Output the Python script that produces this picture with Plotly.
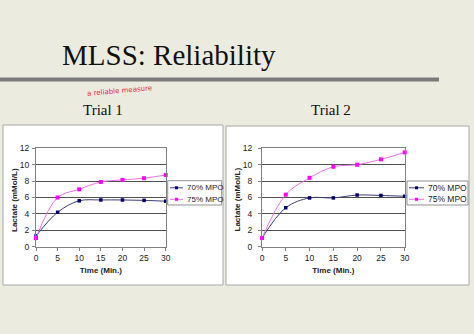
import plotly.graph_objects as go

W, H = 474, 334

time_min = [0, 5, 10, 15, 20, 25, 30]
trial1_70 = [1.3, 4.2, 5.6, 5.7, 5.7, 5.65, 5.55]
trial1_75 = [1.05, 6.0, 7.0, 7.9, 8.15, 8.35, 8.75]
trial2_70 = [1.05, 4.75, 5.95, 5.95, 6.3, 6.25, 6.15]
trial2_75 = [1.05, 6.35, 8.4, 9.75, 10.0, 10.65, 11.5]
series_names = ["70% MPO", "75% MPO"]
y_ticks = [0, 2, 4, 6, 8, 10, 12]
x_ticks = [0, 5, 10, 15, 20, 25, 30]

C70_LINE, C70_MARK = "#3c3c78", "#000070"
C75_LINE, C75_MARK = "#e870e8", "#ff00ff"


def px(x):
    return x / W


def py(y):
    return 1 - y / H


fig = go.Figure()

for ax, (s70, s75) in zip(["", "2"], [(trial1_70, trial1_75), (trial2_70, trial2_75)]):
    fig.add_trace(go.Scatter(x=time_min, y=s70, mode="lines+markers", name=series_names[0],
                             line=dict(color=C70_LINE, width=1, shape="spline", smoothing=1),
                             marker=dict(color=C70_MARK, size=3.5, symbol="square"),
                             xaxis="x" + ax, yaxis="y" + ax, showlegend=False, cliponaxis=False))
    fig.add_trace(go.Scatter(x=time_min, y=s75, mode="lines+markers", name=series_names[1],
                             line=dict(color=C75_LINE, width=1, shape="spline", smoothing=1),
                             marker=dict(color=C75_MARK, size=4, symbol="square"),
                             xaxis="x" + ax, yaxis="y" + ax, showlegend=False, cliponaxis=False))

FONT = "Liberation Sans, Arial"
tickfont = dict(family=FONT, size=8.5, color="#222")
titlefont = dict(family=FONT, size=8, color="#222", weight="bold")

plots = [
    dict(x0=36, x1=165.7, y0=148.3, y1=246.7, ylab_std=1, ytitle_x=15),
    dict(x0=262, x1=404.7, y0=148.3, y1=246.7, ylab_std=4, ytitle_x=237.5),
]

layout_axes = {}
for i, p in enumerate(plots):
    sfx = "" if i == 0 else str(i + 1)
    layout_axes["xaxis" + sfx] = dict(
        domain=[px(p["x0"]), px(p["x1"])], range=[0, 30], tickvals=x_ticks,
        showgrid=False, zeroline=False, showline=True, linecolor="#808080", linewidth=1,
        mirror=True, ticks="outside", ticklen=3, tickcolor="#808080", tickfont=tickfont,
        anchor="y" + sfx, automargin=False, fixedrange=True,
        title=dict(text="Time (Min.)", font=titlefont, standoff=5))
    layout_axes["yaxis" + sfx] = dict(
        domain=[py(p["y1"]), py(p["y0"])], range=[0, 12], tickvals=y_ticks,
        showgrid=True, gridcolor="#505050", gridwidth=1, zeroline=False,
        showline=True, linecolor="#808080", linewidth=1, mirror=True,
        ticks="outside", ticklen=3, tickcolor="#808080", tickfont=tickfont,
        ticklabelstandoff=p["ylab_std"],
        anchor="x" + sfx, automargin=False, fixedrange=True)

shapes = []
annotations = []

# title underline
shapes.append(dict(type="line", xref="paper", yref="paper", x0=0, x1=px(439), y0=py(79.5), y1=py(79.5),
                   line=dict(color="#7a7a7a", width=4), layer="below"))
# chart boxes
for (bx0, by0, bx1, by1) in [(3, 125, 223, 285), (226, 126, 469, 285)]:
    shapes.append(dict(type="rect", xref="paper", yref="paper", x0=px(bx0), x1=px(bx1), y0=py(by1), y1=py(by0),
                       fillcolor="white", line=dict(color="#a8a8a8", width=1), layer="below"))

# y-axis titles
for i, p in enumerate(plots):
    annotations.append(dict(text="<b>Lactate (mMol/L)</b>", xref="paper", yref="paper",
                            x=px(p["ytitle_x"]), y=py(200), textangle=-90,
                            showarrow=False, font=dict(family=FONT, size=8, color="#222"),
                            xanchor="center", yanchor="middle"))

# legends (boxes + samples + labels)
legends = [
    dict(bx0=167.7, bx1=221.7, by0=180.7, by1=205, lx0=170, lx1=183, tx=184.5, rows=[187.8, 199.3], fs=8),
    dict(bx0=407, bx1=468, by0=181, by1=205, lx0=409, lx1=424, tx=425.5, rows=[187.8, 199.3], fs=8.5),
]
for lg in legends:
    shapes.append(dict(type="rect", xref="paper", yref="paper", x0=px(lg["bx0"]), x1=px(lg["bx1"]),
                       y0=py(lg["by1"]), y1=py(lg["by0"]), fillcolor="white",
                       line=dict(color="#909090", width=1)))
    for name, yrow, lc, mc in zip(series_names, lg["rows"], [C70_LINE, C75_LINE], [C70_MARK, C75_MARK]):
        shapes.append(dict(type="line", xref="paper", yref="paper", x0=px(lg["lx0"]), x1=px(lg["lx1"]),
                           y0=py(yrow), y1=py(yrow), line=dict(color=lc, width=1)))
        cx = (lg["lx0"] + lg["lx1"]) / 2
        shapes.append(dict(type="rect", xref="paper", yref="paper", x0=px(cx - 1.5), x1=px(cx + 1.5),
                           y0=py(yrow + 1.5), y1=py(yrow - 1.5), fillcolor=mc, line=dict(width=0)))
        annotations.append(dict(text=name, xref="paper", yref="paper", x=px(lg["tx"]), y=py(yrow),
                                xanchor="left", yanchor="middle", showarrow=False,
                                font=dict(family=FONT, size=lg["fs"], color="#222")))

# slide texts
annotations.append(dict(text="MLSS: Reliability", xref="paper", yref="paper", x=px(60), y=py(55),
                        xanchor="left", yanchor="middle", showarrow=False,
                        font=dict(family="Liberation Serif, Times New Roman", size=29, color="#111")))
annotations.append(dict(text="Trial 1", xref="paper", yref="paper", x=px(103), y=py(110),
                        xanchor="center", yanchor="middle", showarrow=False,
                        font=dict(family="Liberation Serif, Times New Roman", size=15, color="#111")))
annotations.append(dict(text="Trial 2", xref="paper", yref="paper", x=px(331), y=py(110),
                        xanchor="center", yanchor="middle", showarrow=False,
                        font=dict(family="Liberation Serif, Times New Roman", size=15, color="#111")))
annotations.append(dict(text="a reliable measure", xref="paper", yref="paper", x=px(119), y=py(91),
                        xanchor="center", yanchor="middle", showarrow=False, textangle=-5,
                        font=dict(family="DejaVu Sans", size=7, color="#e03040")))

fig.update_layout(
    width=W, height=H, margin=dict(l=0, r=0, t=0, b=0),
    paper_bgcolor="#ecebe0", plot_bgcolor="#c0c0c0",
    showlegend=False, shapes=shapes, annotations=annotations,
    **layout_axes)

fig.write_html("out.html", config={"displayModeBar": False})
